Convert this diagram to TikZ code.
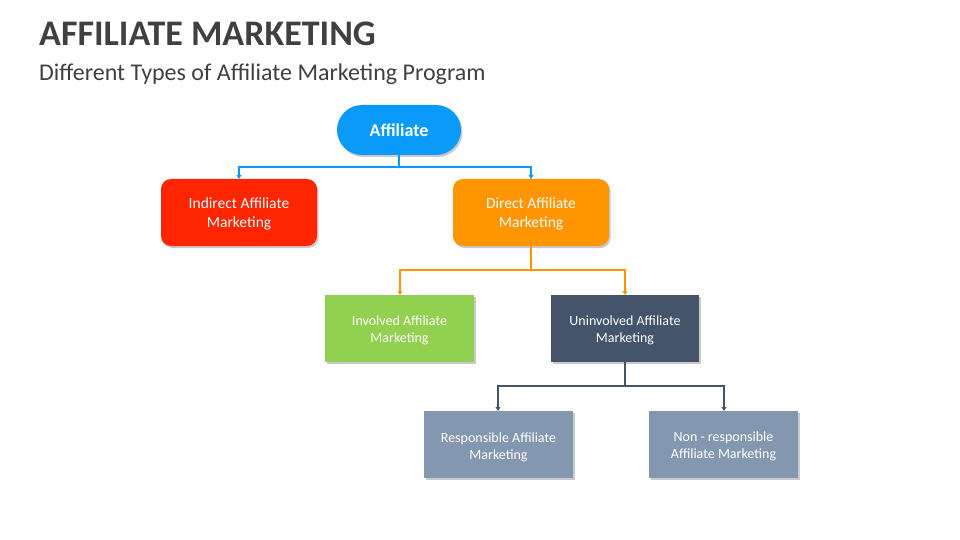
\documentclass[tikz,border=0pt]{standalone}
\usepackage{fontspec}
\setmainfont{Carlito}
\usetikzlibrary{shadows,arrows.meta}
\definecolor{titlegray}{HTML}{404040}
\definecolor{cblue}{HTML}{0A9BFA}
\definecolor{cred}{HTML}{FF2500}
\definecolor{corange}{HTML}{FF9500}
\definecolor{cgreen}{HTML}{92D050}
\definecolor{cslate}{HTML}{44546A}
\definecolor{cgrayblue}{HTML}{8497B0}
\tikzset{
  box/.style={drop shadow={shadow xshift=1.5pt, shadow yshift=-2pt, opacity=0.35, fill=black!60}},
  rbox/.style={box, rounded corners=10pt},
  sbox/.style={box},
  lbl/.style={text=white, align=center, inner sep=0pt},
  lbltwo/.style={lbl, font=\fontsize{15.5}{19}\selectfont},
  lblthree/.style={lbl, font=\fontsize{14}{17}\selectfont},
  conn/.style={line width=1.6pt, -{Triangle[length=4pt,width=5pt]}},
}
\begin{document}
\begin{tikzpicture}[x=1pt,y=-1pt]
\useasboundingbox (0,0) rectangle (960,540);
\node[anchor=base west, text=titlegray, font=\fontsize{36}{40}\selectfont\bfseries, inner sep=0pt] (title) at (39,46) {AFFILIATE MARKETING};
\node[anchor=base west, text=titlegray, font=\fontsize{24}{28}\selectfont, inner sep=0pt] (sub) at (39,81) {Different Types of Affiliate Marketing Program};

\path[rbox, fill=cblue, rounded corners=25pt] (337,105) rectangle (461,155);
\node[lbl, font=\fontsize{18}{21}\selectfont\bfseries] (aff) at (399,130) {Affiliate};
\coordinate (affb) at (399,155);

\path[rbox, fill=cred] (161,179) rectangle (317,246);
\node[lbltwo] (ind) at (239,214) {Indirect Affiliate\\Marketing};
\path[rbox, fill=corange] (453,179) rectangle (609,246);
\node[lbltwo] (dir) at (531,214) {Direct Affiliate\\Marketing};

\path[sbox, fill=cgreen] (325,295) rectangle (474,362);
\node[lblthree] (inv) at (399.5,330) {Involved Affiliate\\Marketing};
\path[sbox, fill=cslate] (551,295) rectangle (699,362);
\node[lblthree] (uninv) at (625,330) {Uninvolved Affiliate\\Marketing};

\path[sbox, fill=cgrayblue] (424,411) rectangle (573,478);
\node[lblthree] (resp) at (498.5,447.5) {Responsible Affiliate\\Marketing};
\path[sbox, fill=cgrayblue] (649,411) rectangle (798,478);
\node[lblthree] (nonresp) at (723.5,446) {Non - responsible\\Affiliate Marketing};

\coordinate (affj) at (399,167);
\coordinate (indt) at (239,179);
\coordinate (dirt) at (531,179);
\draw[cblue, line width=1.5pt] (affb) -- (affj);
\draw[cblue, conn, line width=1.5pt] (affj) -| (indt);
\draw[cblue, conn, line width=1.5pt] (affj) -| (dirt);

\coordinate (dirb) at (531,246);
\coordinate (dirj) at (531,270);
\coordinate (invt) at (400,295);
\coordinate (uninvt) at (625,295);
\draw[corange, line width=1.5pt] (dirb) -- (dirj);
\draw[corange, conn, line width=1.5pt] (dirj) -| (invt);
\draw[corange, conn, line width=1.5pt] (dirj) -| (uninvt);

\coordinate (uninvb) at (625,362);
\coordinate (uninvj) at (625,386);
\coordinate (respt) at (498,411);
\coordinate (nonrespt) at (724,411);
\draw[cslate, line width=1.5pt] (uninvb) -- (uninvj);
\draw[cslate, conn, line width=1.5pt] (uninvj) -| (respt);
\draw[cslate, conn, line width=1.5pt] (uninvj) -| (nonrespt);
\end{tikzpicture}
\end{document}
